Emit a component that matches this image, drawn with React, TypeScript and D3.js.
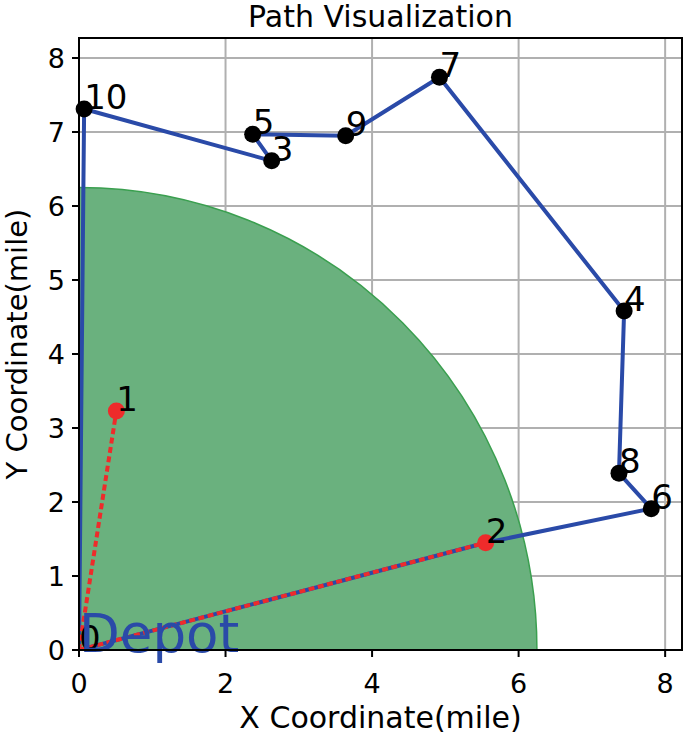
import * as d3 from "d3";

const nodeIds = [0, 1, 2, 3, 4, 5, 6, 7, 8, 9, 10];
const nodeX = [0, 0.51, 5.55, 2.63, 7.44, 2.37, 7.81, 4.92, 7.37, 3.64, 0.07];
const nodeY = [0, 3.23, 1.45, 6.61, 4.58, 6.97, 1.91, 7.74, 2.39, 6.95, 7.31];
const droneNodes = [1, 2];
const truckRoute = [0, 2, 6, 8, 4, 7, 9, 5, 3, 10, 0];
const droneLegs = [
  [0, 1],
  [0, 2],
];
const coverRadius = 6.25;
const xTicks = [0, 2, 4, 6, 8];
const yTicks = [0, 1, 2, 3, 4, 5, 6, 7, 8];

const W = 685;
const H = 736;
const left = 79;
const right = 682;
const top = 38;
const bottom = 650;
const font = "DejaVu Sans";
const blue = "#2a4aa8";
const red = "#ee2b2b";

export default function App() {
  const x = d3.scaleLinear().domain([0, 8.23]).range([left, right]);
  const y = d3.scaleLinear().domain([0, 8.27]).range([bottom, top]);

  const rx = x(coverRadius) - x(0);
  const ry = y(0) - y(coverRadius);
  const circlePath = `M${x(0)},${y(0)} L${x(coverRadius)},${y(0)} A${rx},${ry} 0 0 0 ${x(0)},${y(coverRadius)} Z`;
  const arcEdge = `M${x(coverRadius)},${y(0)} A${rx},${ry} 0 0 0 ${x(0)},${y(coverRadius)}`;

  const line = d3
    .line<number>()
    .x((i) => x(nodeX[i]))
    .y((i) => y(nodeY[i]));

  return (
    <svg width={W} height={H} style={{ position: "absolute", left: 0, top: 0, background: "#fff" }} fontFamily={font}>
      <defs>
        <clipPath id="plot">
          <rect x={left} y={top} width={right - left} height={bottom - top} />
        </clipPath>
      </defs>

      <text x={(left + right) / 2} y={27} fontSize={30} textAnchor="middle">
        Path Visualization
      </text>

      {/* grid */}
      <g stroke="#b0b0b0" strokeWidth={2}>
        {xTicks.map((t) => (
          <line key={"gx" + t} x1={x(t)} x2={x(t)} y1={top} y2={bottom} />
        ))}
        {yTicks.map((t) => (
          <line key={"gy" + t} x1={left} x2={right} y1={y(t)} y2={y(t)} />
        ))}
      </g>

      <g clipPath="url(#plot)">
        <path d={circlePath} fill="#6ab17e" />
        <path d={arcEdge} fill="none" stroke="#3a9f4f" strokeWidth={1.5} />
        <path d={line(truckRoute) ?? ""} fill="none" stroke={blue} strokeWidth={4} strokeLinejoin="round" />
        {droneLegs.map((leg, i) => (
          <path key={"d" + i} d={line(leg) ?? ""} fill="none" stroke={red} strokeWidth={4} strokeDasharray="6 3.5" />
        ))}
      </g>

      {nodeIds
        .filter((id) => id !== 0)
        .map((id) => (
          <circle
            key={"n" + id}
            cx={x(nodeX[id])}
            cy={y(nodeY[id])}
            r={8.5}
            fill={droneNodes.includes(id) ? red : "#000"}
          />
        ))}

      {nodeIds.map((id) => (
        <text key={"l" + id} x={x(nodeX[id])} y={y(nodeY[id])} fontSize={34} fill="#000">
          {id}
        </text>
      ))}

      <text x={x(0)} y={y(0) + 2} fontSize={53} fill={blue}>
        Depot
      </text>

      {/* spines */}
      <rect x={left} y={top} width={right - left} height={bottom - top} fill="none" stroke="#000" strokeWidth={2} />

      {/* x axis */}
      <g fontSize={27} textAnchor="middle">
        {xTicks.map((t) => (
          <g key={"tx" + t}>
            <line x1={x(t)} x2={x(t)} y1={bottom} y2={bottom + 7} stroke="#000" strokeWidth={2} />
            <text x={x(t)} y={bottom + 43}>
              {t}
            </text>
          </g>
        ))}
      </g>
      <g fontSize={27} textAnchor="end">
        {yTicks.map((t) => (
          <g key={"ty" + t}>
            <line x1={left - 7} x2={left} y1={y(t)} y2={y(t)} stroke="#000" strokeWidth={2} />
            <text x={left - 14} y={y(t) + 10}>
              {t}
            </text>
          </g>
        ))}
      </g>

      <text x={(left + right) / 2} y={728} fontSize={30} textAnchor="middle">
        X Coordinate(mile)
      </text>
      <text transform={`translate(27, ${(top + bottom) / 2}) rotate(-90)`} fontSize={29} textAnchor="middle">
        Y Coordinate(mile)
      </text>
    </svg>
  );
}
